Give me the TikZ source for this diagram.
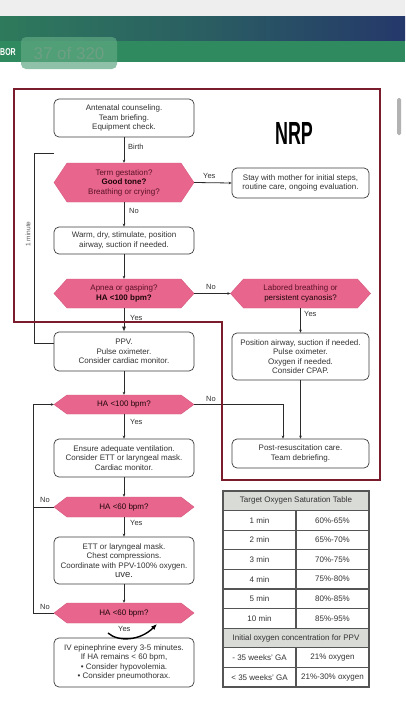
\documentclass[tikz,border=0pt]{standalone}
\usepackage{fontspec}
\usepackage{graphicx}
\setmainfont{Liberation Sans}
\usetikzlibrary{arrows.meta,calc}
\definecolor{hexpink}{HTML}{E8668D}
\definecolor{hexedge}{HTML}{D4577E}
\definecolor{hexdark}{HTML}{5A1028}
\definecolor{hexbold}{HTML}{1E0509}
\definecolor{boxline}{HTML}{3C3C3C}
\definecolor{boxtext}{HTML}{333333}
\definecolor{connc}{HTML}{2A2A2A}
\definecolor{lblc}{HTML}{333333}
\definecolor{framec}{HTML}{7B1C2C}
\definecolor{tabline}{HTML}{555555}
\definecolor{tabhead}{HTML}{D9DBD7}
\definecolor{topgray}{HTML}{EEEEEE}
\definecolor{barleft}{HTML}{2E7A5C}
\definecolor{barmid}{HTML}{2A5E62}
\definecolor{barright}{HTML}{25386A}
\definecolor{bargreen}{HTML}{2F8A5F}
\definecolor{pillgreen}{HTML}{5FA882}
\definecolor{pilltext}{HTML}{6D9F84}
\newcommand{\hexa}[5]{%
  \fill[hexfill] ({#2-70},#3) -- ({#2-57},{#3-#4}) -- ({#2+57},{#3-#4}) -- ({#2+70},#3) -- ({#2+57},{#3+#4}) -- ({#2-57},{#3+#4}) -- cycle;
  \node[hextext, minimum height={2*#4pt}] (#1) at (#2,#3) {#5};%
}
\tikzset{
  box/.style={draw=boxline, line width=0.7pt, rounded corners=5pt, align=center, inner sep=0pt, text=boxtext, font=\fontsize{8}{9.5}\selectfont},
  mainbox/.style={box, minimum width=140pt},
  sidebox/.style={box, minimum width=137pt},
  hexfill/.style={fill=hexpink, draw=hexedge, line width=0.4pt},
  hextext/.style={inner sep=0pt, minimum width=140pt, align=center, font=\fontsize{8}{9.5}\selectfont, text=hexdark},
  conn/.style={draw=connc, line width=0.8pt, -{Stealth[length=3pt,width=2.6pt]}},
  plainconn/.style={draw=connc, line width=0.8pt},
  bigarrow/.style={draw=connc, line width=0.8pt, -{Latex[length=5pt,width=4pt]}},
  curvearrow/.style={draw=black, line width=1.4pt, -{Latex[length=6pt,width=5pt]}},
  lbl/.style={font=\fontsize{7.5}{8}\selectfont, text=lblc, inner sep=0pt, anchor=west},
  frame/.style={draw=framec, line width=1.8pt},
  tabtext/.style={font=\fontsize{8}{9}\selectfont, text=boxtext, inner sep=0pt},
  tabborder/.style={draw=tabline, line width=1.1pt}
}
\begin{document}
\begin{tikzpicture}[x=1pt,y=-1pt]
\useasboundingbox (0,0) rectangle (405,720);
\fill[white] (0,0) rectangle (405,720);
% ---- phone header ----
\fill[topgray] (0,0) rectangle (405,16);
\shade[left color=barleft, right color=barright, middle color=barmid] (0,16) rectangle (405,40.7);
\fill[bargreen] (0,40.7) rectangle (405,62.3);
\node[anchor=west, inner sep=0pt, text=white, font=\fontsize{10}{12}\selectfont\bfseries] (bor) at (0,52.5) {\scalebox{0.7}[1]{BOR}};
\fill[pillgreen, opacity=0.7, rounded corners=5pt] (21,37) rectangle (117,69);
\node[inner sep=0pt, text=pilltext, font=\fontsize{17}{20}\selectfont] (page) at (69,53) {37 of 320};
\fill[gray!60, rounded corners=1.5pt] (397,98) rectangle (401,135);
% ---- title ----
\node[inner sep=0pt, font=\fontsize{32}{34}\selectfont\bfseries] (title) at (294,133) {\scalebox{0.56}[1]{NRP}};
% ---- main column ----
\node[mainbox, minimum height=38pt] (b1) at (124,118) {Antenatal counseling.\\Team briefing.\\Equipment check.};
\hexa{h1}{124}{182.5}{19.5}{Term gestation?\\\textcolor{hexbold}{\bfseries Good tone?}\\Breathing or crying?}
\node[mainbox, minimum height=27pt] (bwarm) at (124,240.5) {Warm, dry, stimulate, position\\airway, suction if needed.};
\hexa{h2}{124}{293.5}{14.5}{Apnea or gasping?\\\textcolor{hexbold}{\bfseries HA <100 bpm?}}
\node[mainbox, minimum height=39pt] (bppv) at (124,351.5) {PPV.\\Pulse oximeter.\\Consider cardiac monitor.};
\hexa{h4}{124}{404.5}{9.5}{\textcolor{hexbold}{HA <100 bpm?}}
\node[mainbox, minimum height=38pt] (bvent) at (124,458) {Ensure adequate ventilation.\\Consider ETT or laryngeal mask.\\Cardiac monitor.};
\hexa{h5}{124}{507}{10}{\textcolor{hexbold}{HA <60 bpm?}}
\node[mainbox, minimum height=47pt] (bett) at (124,560.5) {ETT or laryngeal mask.\\Chest compressions.\\Coordinate with PPV-100\% oxygen.\\{\fontsize{9.5}{9.5}\selectfont uve.}};
\hexa{h6}{124}{613}{10}{\textcolor{hexbold}{HA <60 bpm?}}
\node[mainbox, minimum height=49pt] (biv) at (124,662.5) {IV epinephrine every 3-5 minutes.\\If HA remains < 60 bpm,\\• Consider hypovolemia.\\• Consider pneumothorax.};
% ---- right column ----
\node[sidebox, minimum height=30pt] (bstay) at (300.5,183) {Stay with mother for initial steps,\\routine care, ongoing evaluation.};
\hexa{h3}{300.5}{293.5}{14.5}{Labored breathing or\\\textcolor{hexbold}{persistent cyanosis?}}
\node[sidebox, minimum height=47pt] (bcpap) at (300.5,356.5) {Position airway, suction if needed.\\Pulse oximeter.\\Oxygen if needed.\\Consider CPAP.};
\node[sidebox, minimum height=29pt] (bpost) at (300.5,453.5) {Post-resuscitation care.\\Team debriefing.};
% ---- connectors ----
\draw[conn] (b1.south) -- (h1.north);
\node[lbl] (lbirth) at (128,147) {Birth};
\draw[conn] (h1.south) -- (bwarm.north);
\node[lbl] (lno1) at (129,211) {No};
\draw[conn] (h1.east) -- (bstay.west);
\node[lbl] (lyes1) at (203,176) {Yes};
\draw[conn] (bwarm.south) -- (h2.north);
\draw[bigarrow] (h2.south) -- (bppv.north);
\node[lbl] (lyes2) at (130,318) {Yes};
\draw[conn] (h2.east) -- (h3.west);
\node[lbl] (lno2) at (206,287) {No};
\draw[conn] (h3.south) -- (bcpap.north);
\node[lbl] (lyes3) at (304,314) {Yes};
\draw[conn] (bcpap.south) -- (bpost.north);
\draw[conn] (bppv.south) -- (h4.north);
\draw[conn] (h4.east) -| ([xshift=-17.5pt]bpost.north);
\node[lbl] (lno3) at (206,399) {No};
\draw[conn] (h4.south) -- (bvent.north);
\node[lbl] (lyes4) at (130,422) {Yes};
\draw[conn] (bvent.south) -- (h5.north);
\draw[conn] (h5.south) -- (bett.north);
\node[lbl] (lyes5) at (130,523) {Yes};
\draw[conn] (bett.south) -- (h6.north);
\draw[conn] (h6.west) -- ++(-20,0) |- (h4.west);
\draw[plainconn] (h5.west) -- ++(-20,0);
\node[lbl] (lno4) at (40,500) {No};
\node[lbl] (lno5) at (40,606.5) {No};
% one-minute bracket
\coordinate (mtop) at (54,153);
\coordinate (mcorner) at (34,153);
\draw[plainconn] (mtop) -- (mcorner) |- ([yshift=8.5pt]bppv.west);
\node[inner sep=0pt, rotate=90, font=\fontsize{6.5}{7}\selectfont, text=gray!70!black] (lmin) at (28,234) {1 minute};
% curved yes arrow
\coordinate (ya) at (108,633);
\coordinate (yb) at (157,624);
\draw[curvearrow] (ya) .. controls (118,642) and (140,641) .. (yb);
\node[lbl] (lyes6) at (118,629) {Yes};
% ---- red frame ----
\draw[frame] (14,89) -- (380,89) -- (380,480) -- (222,480) -- (222,322) -- (14,322) -- cycle;
% ---- table ----
\fill[tabhead] (223,491) rectangle (369,510.6);
\fill[tabhead] (223,628.2) rectangle (369,647.8);
\foreach \k in {1,...,9} {\draw[tabborder] (223,{491+19.6*\k}) -- (369,{491+19.6*\k});}
\draw[tabborder] (296,510.6) -- (296,628.2);
\draw[tabborder] (296,647.8) -- (296,687);
\draw[tabborder] (223,491) rectangle (369,687);
\node[tabtext] (th1) at (296,500.8) {Target Oxygen Saturation Table};
\node[tabtext] (t1a) at (259.5,520.4) {1 min};
\node[tabtext] (t1b) at (332.5,520.4) {60\%-65\%};
\node[tabtext] (t2a) at (259.5,540) {2 min};
\node[tabtext] (t2b) at (332.5,540) {65\%-70\%};
\node[tabtext] (t3a) at (259.5,559.6) {3 min};
\node[tabtext] (t3b) at (332.5,559.6) {70\%-75\%};
\node[tabtext] (t4a) at (259.5,579.2) {4 min};
\node[tabtext] (t4b) at (332.5,579.2) {75\%-80\%};
\node[tabtext] (t5a) at (259.5,598.8) {5 min};
\node[tabtext] (t5b) at (332.5,598.8) {80\%-85\%};
\node[tabtext] (t6a) at (259.5,618.4) {10 min};
\node[tabtext] (t6b) at (332.5,618.4) {85\%-95\%};
\node[tabtext] (th2) at (296,638) {Initial oxygen concentration for PPV};
\node[tabtext] (t7a) at (259.5,657.6) {- 35 weeks' GA};
\node[tabtext] (t7b) at (332.5,657.6) {21\% oxygen};
\node[tabtext] (t8a) at (259.5,677.2) {< 35 weeks' GA};
\node[tabtext] (t8b) at (332.5,677.2) {21\%-30\% oxygen};
\end{tikzpicture}
\end{document}
